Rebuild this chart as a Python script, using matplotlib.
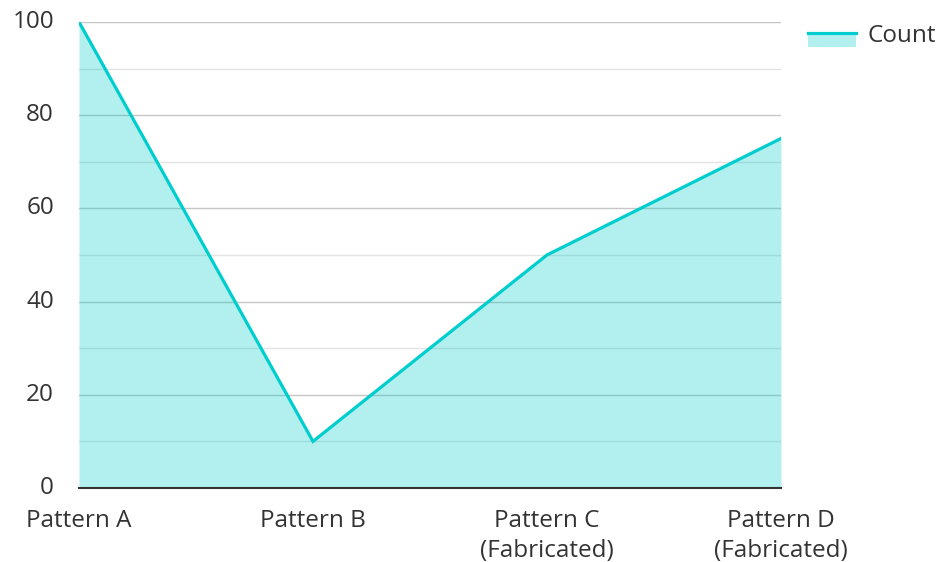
import matplotlib
matplotlib.use('Agg')
import matplotlib.pyplot as plt
from matplotlib.ticker import MultipleLocator
from matplotlib.lines import Line2D
from matplotlib.patches import Rectangle
from matplotlib.legend_handler import HandlerBase

plt.rcParams['font.family'] = ['Open Sans', 'DejaVu Sans']

# Data
categories = ['Pattern A', 'Pattern B', 'Pattern C\n(Fabricated)', 'Pattern D\n(Fabricated)']
counts = [100, 10, 50, 75]

line_color = '#00cdcd'
fill_alpha = 0.3
text_color = '#333333'


class AreaHandler(HandlerBase):
    # legend key: filled box with the line along its top edge
    def create_artists(self, legend, orig_handle, xdescent, ydescent,
                       width, height, fontsize, trans):
        y0 = -ydescent - 0.4 * height
        h = 0.95 * height
        rect = Rectangle((-xdescent, y0), width, h,
                         facecolor=line_color, alpha=fill_alpha,
                         edgecolor='none', transform=trans)
        line = Line2D([-xdescent, -xdescent + width], [y0 + h, y0 + h],
                      color=line_color, linewidth=2.3, transform=trans)
        return [rect, line]


fig = plt.figure(figsize=(9.38, 5.62), dpi=100)
ax = fig.add_axes([0.0842, 0.1317, 0.7484, 0.8292])

x = list(range(len(categories)))
ax.fill_between(x, counts, 0, color=line_color, alpha=fill_alpha, linewidth=0, zorder=2)
ax.plot(x, counts, color=line_color, linewidth=2.3, zorder=3, solid_joinstyle='miter')

ax.set_xlim(0, len(categories) - 1)
ax.set_ylim(0, 100)
ax.set_xticks(x)
ax.set_xticklabels(categories, linespacing=1.32)
ax.yaxis.set_major_locator(MultipleLocator(20))
ax.yaxis.set_minor_locator(MultipleLocator(10))

ax.set_axisbelow(True)
ax.grid(axis='y', which='major', color='#c6c6c6', linewidth=1.0)
ax.grid(axis='y', which='minor', color='#e4e4e4', linewidth=1.0)
ax.grid(axis='x', which='both', visible=False)

for side in ['top', 'right', 'left']:
    ax.spines[side].set_visible(False)
ax.spines['bottom'].set_color(text_color)
ax.spines['bottom'].set_linewidth(1.5)
ax.spines['bottom'].set_zorder(4)

ax.tick_params(axis='both', which='both', length=0, labelsize=17.5, colors=text_color)
ax.tick_params(axis='y', pad=18)
ax.tick_params(axis='x', pad=15)
for lbl in ax.get_yticklabels():
    lbl.set_verticalalignment('center')

leg = fig.legend([object()], ['Count'], handler_map={object: AreaHandler()},
                 loc='upper right', bbox_to_anchor=(1.021, 0.996),
                 frameon=False, fontsize=17.5, handlelength=2.0,
                 handleheight=0.6, handletextpad=0.45)
for t in leg.get_texts():
    t.set_color(text_color)

fig.savefig('out.png', dpi=100)
